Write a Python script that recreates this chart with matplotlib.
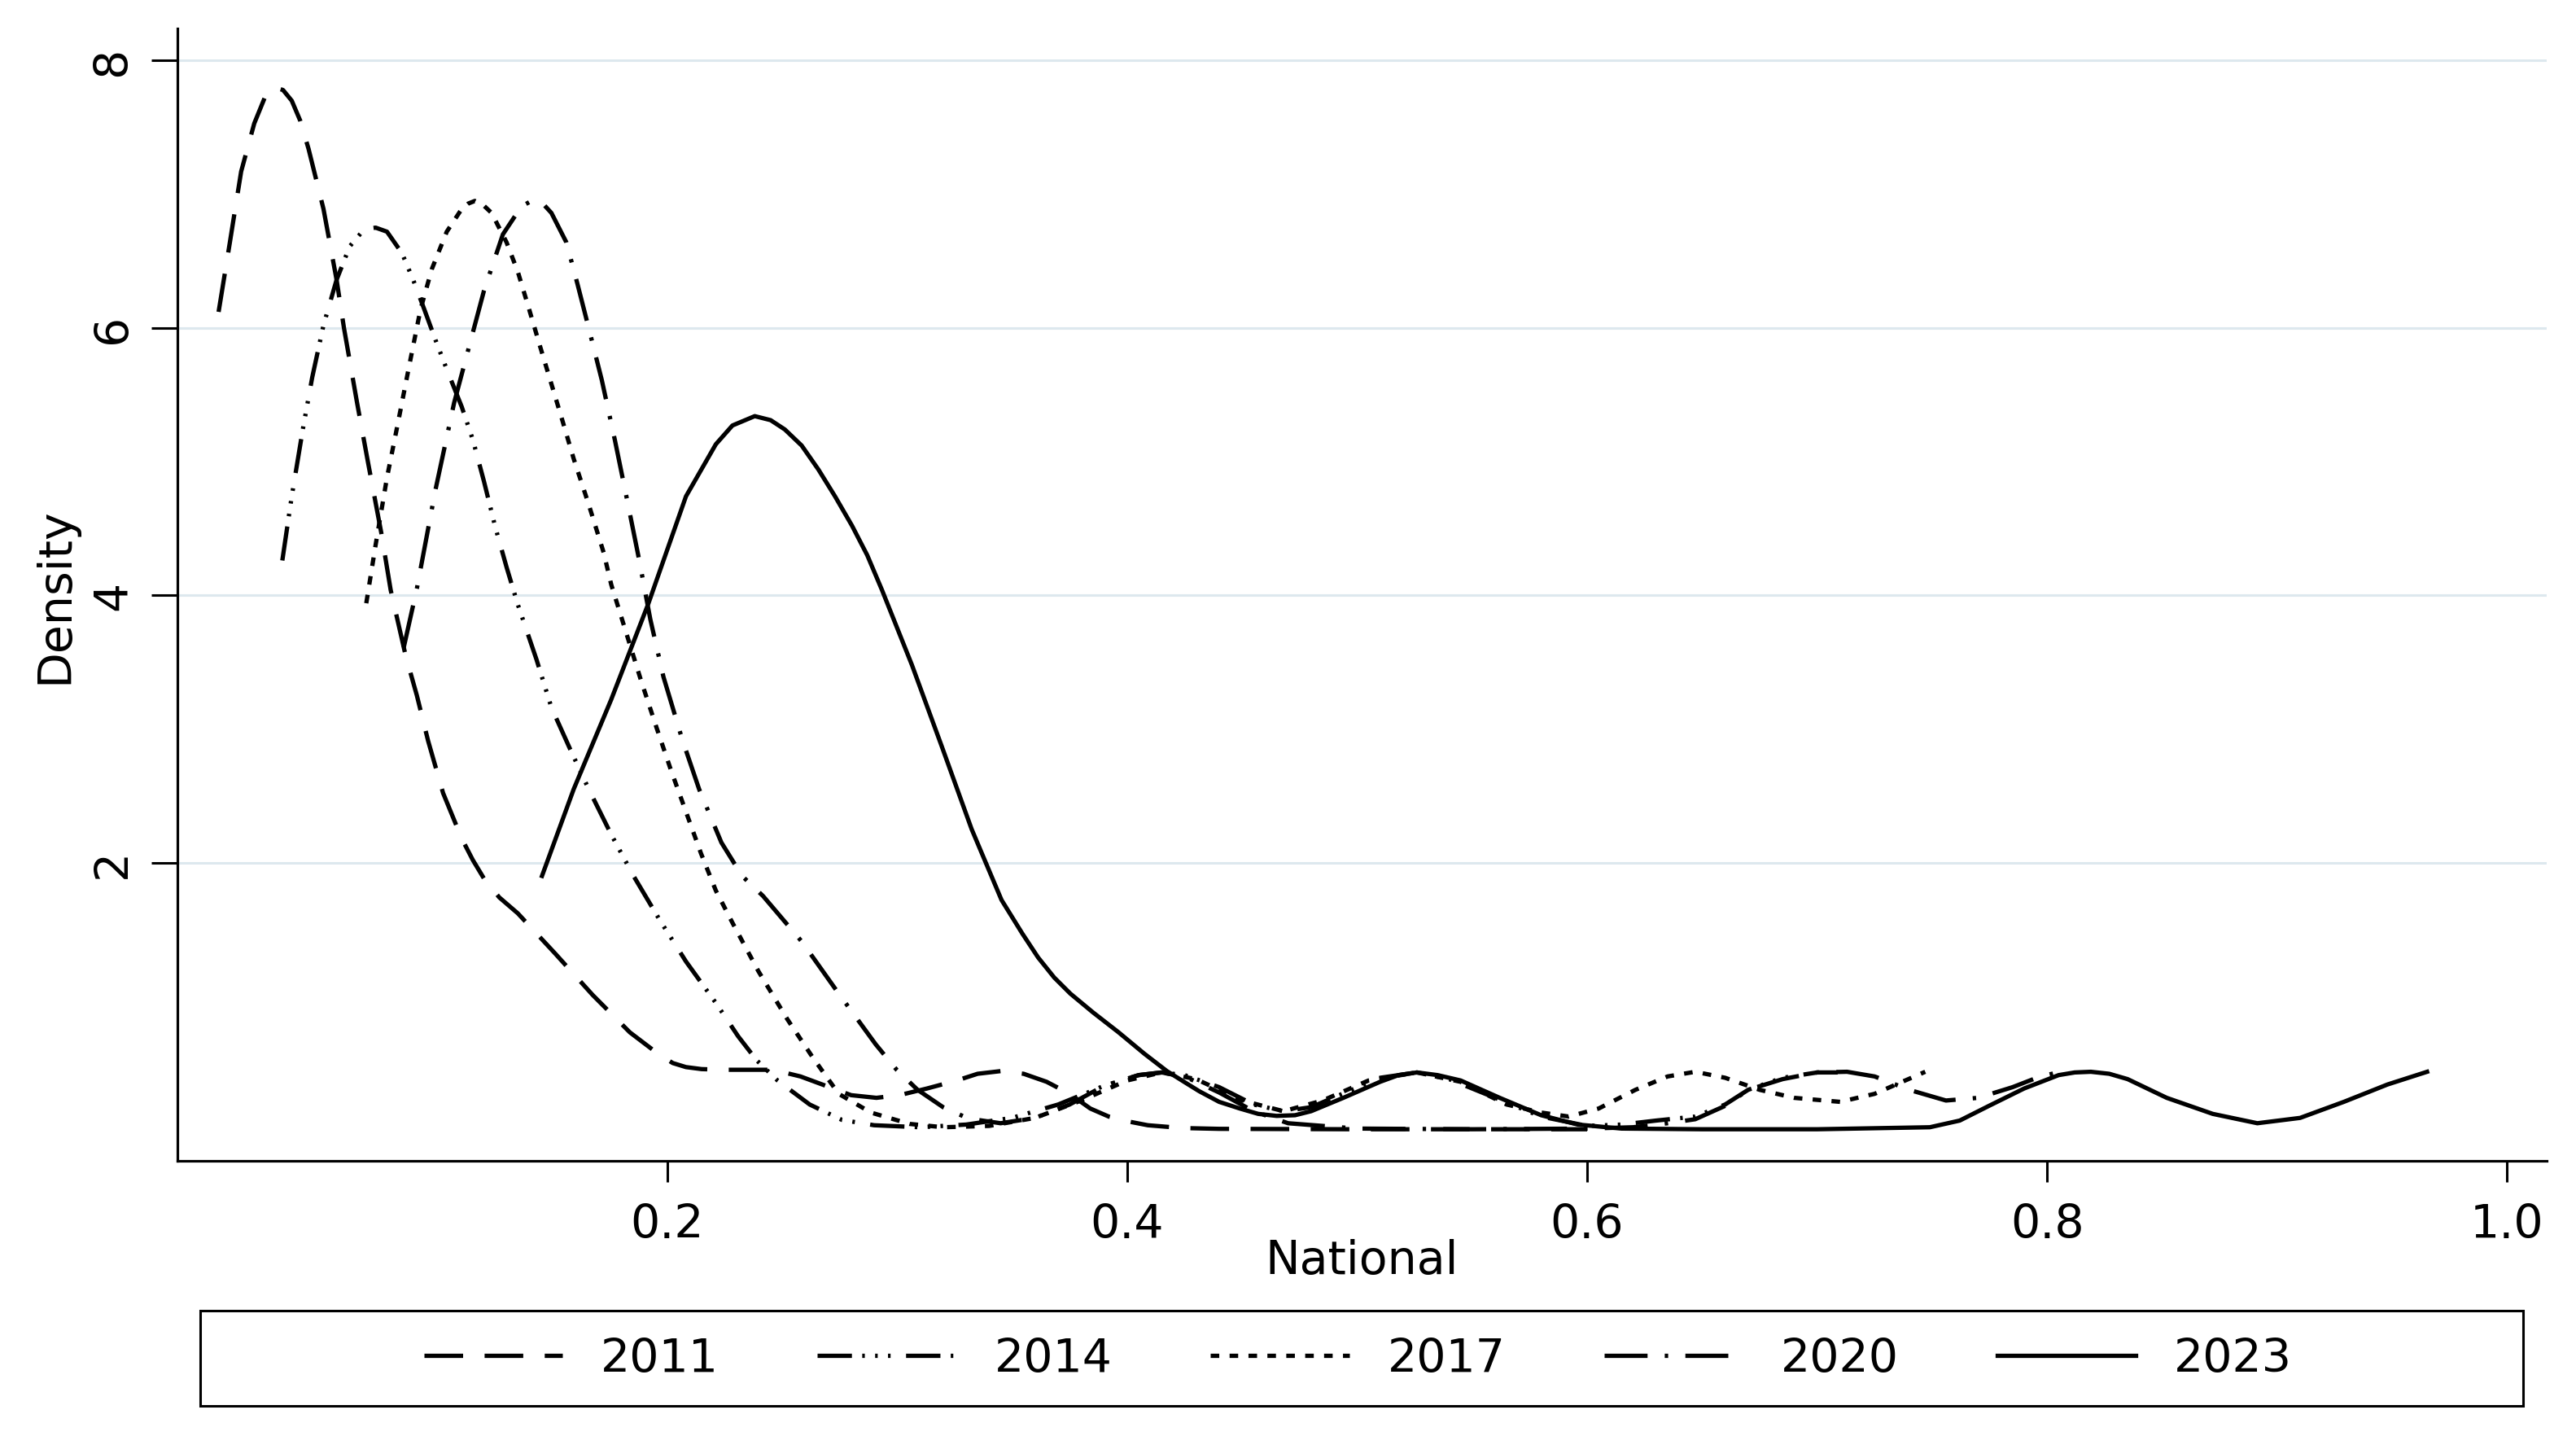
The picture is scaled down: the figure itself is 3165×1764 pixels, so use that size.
import matplotlib
matplotlib.use("Agg")
import matplotlib.pyplot as plt
from matplotlib.patches import Rectangle

# kernel density curves (x = National, y = density)
x_2011 = [0.005, 0.0099, 0.0148, 0.0205, 0.025, 0.029, 0.033, 0.0368, 0.0405, 0.0441,
          0.0506, 0.0563, 0.0595, 0.0652, 0.070, 0.0758, 0.0798, 0.0863, 0.0912, 0.0961,
          0.1026, 0.1107, 0.1155, 0.1204, 0.127, 0.1351, 0.1513, 0.1676, 0.1838, 0.1968,
          0.2025, 0.2082, 0.215, 0.2244, 0.235, 0.246, 0.258, 0.269, 0.28, 0.291,
          0.301, 0.313, 0.326, 0.335, 0.345, 0.355, 0.365, 0.375, 0.384, 0.392,
          0.40, 0.409, 0.424, 0.44, 0.50, 0.55, 0.60]
y_2011 = [6.12, 6.64, 7.17, 7.53, 7.72, 7.80, 7.78, 7.70, 7.55, 7.34,
          6.89, 6.36, 6.00, 5.44, 4.99, 4.46, 4.04, 3.55, 3.25, 2.91,
          2.52, 2.18, 2.02, 1.88, 1.74, 1.62, 1.32, 1.01, 0.73, 0.56,
          0.50, 0.47, 0.455, 0.45, 0.45, 0.45, 0.40, 0.33, 0.26, 0.24,
          0.26, 0.31, 0.37, 0.42, 0.44, 0.42, 0.36, 0.27, 0.16, 0.10,
          0.065, 0.035, 0.014, 0.008, 0.005, 0.005, 0.005]

x_2014 = [0.0327, 0.0368, 0.0416, 0.0457, 0.0506, 0.0563, 0.062, 0.0684, 0.0733, 0.0782,
          0.0847, 0.0896, 0.0944, 0.0993, 0.1042, 0.1107, 0.1156, 0.1204, 0.1253, 0.1302,
          0.1351, 0.1432, 0.1497, 0.1578, 0.1659, 0.1757, 0.1854, 0.1968, 0.2082, 0.2212,
          0.2309, 0.239, 0.248, 0.262, 0.276, 0.29, 0.31, 0.33, 0.35, 0.37,
          0.39, 0.405, 0.415, 0.425, 0.44, 0.455, 0.468, 0.48, 0.495, 0.51,
          0.526, 0.54, 0.56, 0.58, 0.60, 0.615, 0.63, 0.647, 0.66, 0.67,
          0.685, 0.70, 0.713]
y_2014 = [4.26, 4.74, 5.24, 5.63, 6.02, 6.36, 6.61, 6.74, 6.75, 6.72,
          6.56, 6.36, 6.14, 5.91, 5.69, 5.41, 5.16, 4.85, 4.51, 4.21,
          3.93, 3.52, 3.16, 2.85, 2.55, 2.21, 1.90, 1.57, 1.26, 0.95,
          0.70, 0.52, 0.37, 0.19, 0.075, 0.035, 0.02, 0.04, 0.09, 0.19,
          0.33, 0.41, 0.43, 0.41, 0.32, 0.19, 0.14, 0.17, 0.28, 0.39,
          0.43, 0.38, 0.24, 0.10, 0.03, 0.04, 0.07, 0.10, 0.19, 0.30,
          0.39, 0.43, 0.43]

x_2017 = [0.0692, 0.0733, 0.0782, 0.0831, 0.0879, 0.0928, 0.0977, 0.1042, 0.1107, 0.1135,
          0.1164, 0.120, 0.1237, 0.1302, 0.1351, 0.140, 0.1448, 0.1497, 0.1546, 0.1594,
          0.1659, 0.1724, 0.1757, 0.1822, 0.1887, 0.1952, 0.2017, 0.2082, 0.2147, 0.2212,
          0.2284, 0.2396, 0.2522, 0.2634, 0.2746, 0.2886, 0.3054, 0.32, 0.34, 0.36,
          0.38, 0.40, 0.415, 0.43, 0.45, 0.468, 0.485, 0.505, 0.526, 0.545,
          0.565, 0.58, 0.592, 0.605, 0.621, 0.635, 0.647, 0.66, 0.675, 0.69,
          0.71, 0.725, 0.737, 0.747]
y_2017 = [3.94, 4.38, 4.88, 5.30, 5.72, 6.14, 6.44, 6.72, 6.89, 6.93,
          6.95, 6.92, 6.86, 6.64, 6.42, 6.14, 5.86, 5.58, 5.30, 5.02,
          4.68, 4.32, 4.08, 3.72, 3.36, 3.02, 2.69, 2.38, 2.07, 1.79,
          1.55, 1.19, 0.83, 0.54, 0.27, 0.13, 0.045, 0.02, 0.03, 0.09,
          0.22, 0.37, 0.43, 0.38, 0.22, 0.14, 0.22, 0.37, 0.43, 0.36,
          0.19, 0.13, 0.10, 0.16, 0.30, 0.40, 0.435, 0.39, 0.30, 0.24,
          0.21, 0.27, 0.36, 0.435]

x_2020 = [0.0855, 0.0912, 0.0993, 0.1074, 0.1139, 0.1204, 0.1286, 0.1367, 0.140, 0.1432,
          0.1465, 0.1497, 0.1562, 0.161, 0.1659, 0.1716, 0.1773, 0.183, 0.1879, 0.1927,
          0.1984, 0.2066, 0.2139, 0.2236, 0.2326, 0.2417, 0.2585, 0.2746, 0.2907, 0.2998,
          0.3089, 0.32, 0.331, 0.345, 0.36, 0.375, 0.39, 0.405, 0.415, 0.425,
          0.44, 0.455, 0.47, 0.50, 0.55, 0.60, 0.62, 0.635, 0.647, 0.66,
          0.67, 0.685, 0.70, 0.713, 0.725, 0.74, 0.756, 0.77, 0.785, 0.797,
          0.806]
y_2020 = [3.61, 4.05, 4.79, 5.44, 5.86, 6.28, 6.70, 6.91, 6.94, 6.95,
          6.92, 6.86, 6.64, 6.33, 6.00, 5.61, 5.16, 4.68, 4.26, 3.82,
          3.39, 2.92, 2.55, 2.15, 1.90, 1.75, 1.41, 1.02, 0.64, 0.45,
          0.30, 0.17, 0.085, 0.05, 0.09, 0.19, 0.33, 0.41, 0.43, 0.40,
          0.28, 0.14, 0.05, 0.01, 0.005, 0.01, 0.02, 0.05, 0.08, 0.18,
          0.30, 0.38, 0.43, 0.435, 0.40, 0.30, 0.22, 0.24, 0.32, 0.40,
          0.435]

x_2023 = [0.1456, 0.1594, 0.1757, 0.1919, 0.2082, 0.2212, 0.2284, 0.2381, 0.245, 0.2512,
          0.2585, 0.2658, 0.273, 0.2804, 0.287, 0.2934, 0.3064, 0.3194, 0.3324, 0.3454,
          0.3544, 0.3613, 0.3683, 0.3753, 0.3851, 0.3963, 0.4075, 0.4173, 0.4266, 0.4313,
          0.44, 0.449, 0.457, 0.465, 0.473, 0.48, 0.494, 0.51, 0.518, 0.526,
          0.535, 0.545, 0.562, 0.58, 0.596, 0.615, 0.65, 0.70, 0.749, 0.762,
          0.7747, 0.79, 0.805, 0.812, 0.819, 0.827, 0.835, 0.852, 0.872, 0.8914,
          0.91, 0.929, 0.948, 0.9652]
y_2023 = [1.90, 2.55, 3.22, 3.94, 4.74, 5.13, 5.27, 5.34, 5.31, 5.24,
          5.12, 4.94, 4.74, 4.52, 4.30, 4.04, 3.48, 2.87, 2.25, 1.72,
          1.47, 1.29, 1.14, 1.02, 0.88, 0.73, 0.57, 0.44, 0.34, 0.29,
          0.21, 0.16, 0.12, 0.105, 0.11, 0.14, 0.24, 0.36, 0.41, 0.43,
          0.41, 0.37, 0.24, 0.11, 0.04, 0.01, 0.005, 0.005, 0.02, 0.07,
          0.18, 0.31, 0.41, 0.43, 0.435, 0.42, 0.38, 0.24, 0.12, 0.05,
          0.09, 0.21, 0.34, 0.435]

years = ["2011", "2014", "2017", "2020", "2023"]
xs = [x_2011, x_2014, x_2017, x_2020, x_2023]
ys = [y_2011, y_2014, y_2017, y_2020, y_2023]
# stata-like line patterns, in units of line width
dashes = [(9, 5),
          (8, 2.4, 0.6, 2.4, 0.6, 2.4, 0.6, 3.6),
          (2, 2.4),
          (10, 4, 0.8, 4),
          None]

x_ticks = [0.2, 0.4, 0.6, 0.8, 1.0]
x_ticklabels = ["0.2", "0.4", "0.6", "0.8", "1.0"]
y_ticks = [2, 4, 6, 8]
y_ticklabels = ["2", "4", "6", "8"]

plt.rcParams['font.family'] = ['DejaVu Sans']
FS = 41

fig = plt.figure(figsize=(31.65, 17.65), dpi=100)
ax = fig.add_axes([0.06888, 0.1915, 0.91975, 0.7881])

for yv in y_ticks:
    ax.axhline(yv, color='#dde8ee', lw=2.2, zorder=0)

lines = []
for x, y, d, lab in zip(xs, ys, dashes, years):
    ln, = ax.plot(x, y, color='black', lw=3.8, label=lab,
                  solid_joinstyle='round', dash_joinstyle='round')
    if d is not None:
        ln.set_dashes(d)
    lines.append(ln)

ax.set_xlim(-0.0129, 1.0172)
ax.set_ylim(-0.2314, 8.24)
ax.set_xticks(x_ticks)
ax.set_xticklabels(x_ticklabels)
ax.set_yticks(y_ticks)
ax.set_yticklabels(y_ticklabels, rotation=90, va='center')

for s in ['top', 'right']:
    ax.spines[s].set_visible(False)
for s in ['left', 'bottom']:
    ax.spines[s].set_linewidth(2.3)
ax.tick_params(axis='x', direction='out', length=19, width=2.2, pad=18, labelsize=FS)
ax.tick_params(axis='y', direction='out', length=23, width=2.2, pad=14, labelsize=FS)

ax.set_xlabel("National", fontsize=FS)
ax.xaxis.label.set_va('baseline')
ax.xaxis.set_label_coords(0.5, -0.0992)
ax.set_ylabel("Density", fontsize=FS)
ax.yaxis.label.set_rotation_mode('anchor')
ax.yaxis.label.set_va('baseline')
ax.yaxis.label.set_ha('center')
ax.yaxis.set_label_coords(-0.0464, 0.5)

# legend box below the plot
fig.patches.append(Rectangle((0.0777, 0.021), 0.9018, 0.0663, transform=fig.transFigure,
                             fill=False, edgecolor='black', lw=2.2))
fig.legend(handles=lines, labels=years, loc='center', bbox_to_anchor=(0.5272, 0.0533),
           ncol=5, frameon=False, fontsize=FS, handlelength=2.99, handletextpad=0.83,
           columnspacing=2.12)

fig.savefig("out.png", dpi=100)
